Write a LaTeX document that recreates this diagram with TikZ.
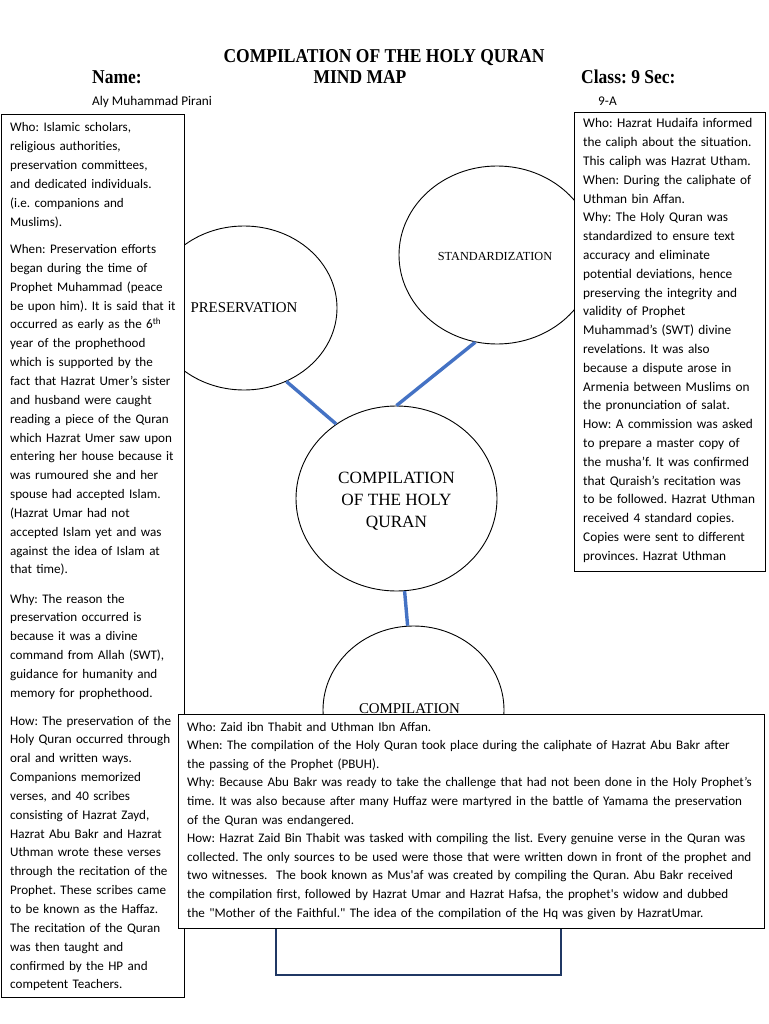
\documentclass[tikz,border=0pt]{standalone}
\usepackage{fontspec}
\setmainfont{Liberation Serif}
\newfontfamily\calib{Carlito}[Ligatures=TeXOff]
\usetikzlibrary{shapes.geometric}
\definecolor{connblue}{HTML}{4472C4}
\definecolor{navy}{HTML}{203864}
\frenchspacing
\tikzset{
  bubble/.style={ellipse, draw=black, line width=0.9pt, fill=white, inner sep=0pt},
  bubbletext/.style={inner sep=0pt, align=center},
  conn/.style={draw=connblue, line width=3.4pt},
  infobox/.style={draw=black, line width=1.1pt, fill=white, inner sep=0pt, anchor=north west},
  bodytext/.style={font=\calib\frenchspacing\fontsize{13.1}{18.85}\selectfont, anchor=base west, inner sep=0pt, align=left, text width=#1},
  headtext/.style={font=\bfseries\fontsize{17.5}{20}\selectfont, inner sep=0pt, anchor=base},
}
\newcommand{\tallhead}[1]{\scalebox{1}[1.12]{#1}}
\begin{document}
\begin{tikzpicture}[x=1pt, y=-1pt]
\useasboundingbox (0,0) rectangle (768,1024);
\fill[white] (0,0) rectangle (768,1024);

% header
\node[headtext] (title) at (384,63) {\tallhead{COMPILATION OF THE HOLY QURAN}};
\node[headtext] (mindmap) at (360,84) {\tallhead{MIND MAP}};
\node[headtext, anchor=base west] (name) at (92,84) {\tallhead{Name:}};
\node[headtext, anchor=base west] (class) at (581,84) {\tallhead{Class: 9 Sec:}};
\node[font=\calib\fontsize{13.3}{16}\selectfont, inner sep=0pt, anchor=base west] (student) at (92,106) {Aly Muhammad Pirani};
\node[font=\calib\fontsize{13.3}{16}\selectfont, inner sep=0pt, anchor=base west] (sec) at (598,106) {9-A};

% bubbles
\node[bubble, minimum width=186, minimum height=164] (pres) at (244,308) {};
\node[bubbletext, font=\fontsize{14.9}{16}\selectfont] (preslabel) at (244,308) {PRESERVATION};
\node[bubble, minimum width=196, minimum height=178] (stand) at (497,255) {};
\node[bubbletext, font=\fontsize{12.3}{14}\selectfont] (standlabel) at (495,256) {STANDARDIZATION};
\node[bubble, minimum width=201, minimum height=185] (center) at (396.5,498.5) {};
\node[bubbletext, font=\fontsize{17.2}{22}\selectfont] (centerlabel) at (396.5,501) {COMPILATION\\OF THE HOLY\\QURAN};
\node[bubble, minimum width=181, minimum height=168] (comp) at (413.5,710) {};
\node[bubbletext, font=\fontsize{14.9}{16}\selectfont] (complabel) at (409.5,709) {COMPILATION};

% connectors
\draw[conn] (pres.-60) -- (center.129);
\draw[conn] (stand.-104.5) -- (center.90);
\draw[conn] (center.-85) -- (comp.94);

% navy rectangle behind bottom box
\node[draw=navy, line width=1.6pt, anchor=north west, minimum width=285, minimum height=90, inner sep=0pt] (navybox) at (275,884) {};

% left box
\node[infobox, minimum width=183.5, minimum height=883] (lbox) at (0.5,114) {};
\node[bodytext=178] (lwho) at (10,132) {Who: Islamic scholars,\\ religious authorities,\\ preservation committees,\\ and dedicated individuals.\\ (i.e. companions and\\ Muslims).};
\node[bodytext=178] (lwhen) at (10,253.5) {When: Preservation efforts\\ began during the time of\\ Prophet Muhammad (peace\\ be upon him). It is said that it\\ occurred as early as the 6\textsuperscript{th}\\ year of the prophethood\\ which is supported by the\\ fact that Hazrat Umer’s sister\\ and husband were caught\\ reading a piece of the Quran\\ which Hazrat Umer saw upon\\ entering her house because it\\ was rumoured she and her\\ spouse had accepted Islam.\\ (Hazrat Umar had not\\ accepted Islam yet and was\\ against the idea of Islam at\\ that time).};
\node[bodytext=178] (lwhy) at (10,603) {Why: The reason the\\ preservation occurred is\\ because it was a divine\\ command from Allah (SWT),\\ guidance for humanity and\\ memory for prophethood.};
\node[bodytext=178] (lhow) at (10,725) {How: The preservation of the\\ Holy Quran occurred through\\ oral and written ways.\\ Companions memorized\\ verses, and 40 scribes\\ consisting of Hazrat Zayd,\\ Hazrat Abu Bakr and Hazrat\\ Uthman wrote these verses\\ through the recitation of the\\ Prophet. These scribes came\\ to be known as the Haffaz.\\ The recitation of the Quran\\ was then taught and\\ confirmed by the HP and\\ competent Teachers.};

% right box
\node[infobox, minimum width=191, minimum height=459] (rbox) at (574,112) {};
\node[bodytext=185, font=\calib\frenchspacing\fontsize{13.3}{18.8}\selectfont] (rtext) at (583,128) {Who: Hazrat Hudaifa informed\\ the caliph about the situation.\\ This caliph was Hazrat Utham.\\ When: During the caliphate of\\ Uthman bin Affan.\\ Why: The Holy Quran was\\ standardized to ensure text\\ accuracy and eliminate\\ potential deviations, hence\\ preserving the integrity and\\ validity of Prophet\\ Muhammad’s (SWT) divine\\ revelations. It was also\\ because a dispute arose in\\ Armenia between Muslims on\\ the pronunciation of salat.\\ How: A commission was asked\\ to prepare a master copy of\\ the musha’f. It was confirmed\\ that Quraish’s recitation was\\ to be followed. Hazrat Uthman\\ received 4 standard copies.\\ Copies were sent to different\\ provinces. Hazrat Uthman};

% bottom box
\node[infobox, minimum width=586.5, minimum height=214] (bbox) at (177.5,714) {};
\node[bodytext=575, font=\calib\frenchspacing\fontsize{13.1}{18.6}\selectfont] (btext) at (187,731) {Who: Zaid ibn Thabit and Uthman Ibn Affan.\\ When: The compilation of the Holy Quran took place during the caliphate of Hazrat Abu Bakr after\\ the passing of the Prophet (PBUH).\\ Why: Because Abu Bakr was ready to take the challenge that had not been done in the Holy Prophet’s\\ time. It was also because after many Huffaz were martyred in the battle of Yamama the preservation\\ of the Quran was endangered.\\ How: Hazrat Zaid Bin Thabit was tasked with compiling the list. Every genuine verse in the Quran was\\ collected. The only sources to be used were those that were written down in front of the prophet and\\ two witnesses.\ \ The book known as Mus'af was created by compiling the Quran. Abu Bakr received\\ the compilation first, followed by Hazrat Umar and Hazrat Hafsa, the prophet's widow and dubbed\\ the "Mother of the Faithful." The idea of the compilation of the Hq was given by HazratUmar.};
\end{tikzpicture}
\end{document}
